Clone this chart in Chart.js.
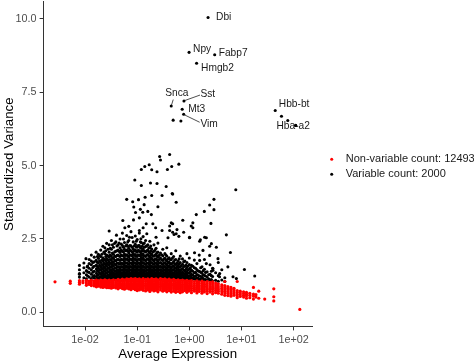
<!DOCTYPE html>
<html>
<head>
<meta charset="utf-8">
<script src="https://cdn.jsdelivr.net/npm/chart.js@4/dist/chart.umd.min.js"></script>
<style>
html,body{margin:0;padding:0;background:#fff;}
canvas{display:block;}
</style>
</head>
<body>
<canvas id="c" width="474" height="362"></canvas>
<script>
// ---------------- DATA ----------------
const xTickValues = [0.01, 0.1, 1, 10, 100];
const xTickLabels = ['1e-02', '1e-01', '1e+00', '1e+01', '1e+02'];
const yTickValues = [0, 2.5, 5, 7.5, 10];
const yTickLabels = ['0.0', '2.5', '5.0', '7.5', '10.0'];

const legendLabels = ['Non-variable count: 12493', 'Variable count: 2000'];

// labelled top variable genes
const geneNames = ['Dbi', 'Npy', 'Fabp7', 'Hmgb2', 'Snca', 'Sst', 'Mt3', 'Vim', 'Hbb-bt', 'Hba-a2'];
const geneExpr  = [2.29, 0.99, 3.07, 1.38, 0.45, 0.79, 0.73, 0.78, 44.5, 77.6];
const geneVar   = [10.05, 8.86, 8.78, 8.49, 7.03, 7.20, 6.92, 6.75, 6.88, 6.54];

// other scattered variable genes [average expression, standardized variance]
const variableSparse = [
 [0.49,6.55],[0.69,6.52],[58.7,6.68],[110,6.37],
 [0.27,5.31],[0.28,5.19],[0.42,5.38],[0.12,4.87],[0.14,4.97],[0.17,5.03],[0.19,4.86],[0.24,4.79],[0.38,4.87],[0.46,4.97],[0.63,5.05],
 [0.09,4.51],[0.12,4.32],[0.18,4.41],[0.24,4.39],[0.36,4.29],[0.48,4.03],[0.30,3.98],[0.19,3.98],
 [0.063,3.85],[0.082,3.77],[0.106,3.84],[0.142,3.92],[0.56,3.75],[0.25,3.60],[0.086,3.59],[0.136,3.67],[0.115,3.51],
 [0.093,3.40],[0.128,3.41],[0.16,3.44],[0.187,3.33],[0.11,3.22],[0.085,3.15],[0.053,3.13],[0.069,2.93],[0.058,2.88],
 [0.029,2.77],[0.04,2.63],[0.11,2.79],[0.13,2.88],[0.149,3.02],[0.2,3.02],[0.226,2.88],[0.30,2.79],[0.42,2.79],[0.48,3.02],
 [0.56,2.68],[0.153,2.68],[0.071,2.56],[0.118,2.51],[0.23,2.56],[0.39,2.54],
 [0.47,4.05],[7.8,4.18],[2.97,3.85],[2.46,3.66],[2.97,3.50],[1.94,3.44],[1.36,3.33],[0.75,3.14],[1.17,3.05],[1.09,2.94],
 [1.17,2.88],[2.6,3.03],[0.45,3.05],[0.42,2.94],[0.58,2.82],[0.48,2.73],[0.51,2.65],[0.78,2.73],[0.63,2.59],[1.01,2.54],
 [2.12,2.54],[1.63,2.47],[5.14,2.64],[6.15,2.04],[5.5,1.55],[11.4,1.46],[18,1.24],[6.9,1.21],[8.0,1.15],[2.46,2.25],
 [3.3,2.22],[1.97,2.56],[3.8,1.21],[2.84,1.43],[0.0104,1.83],[0.0163,2.05],[0.022,2.25],[0.0078,1.32],[0.011,1.55],[0.0163,1.77],
 [1.01,2.56],[1.58,2.42],[2.65,2.34],[1.83,2.11],[1.26,2.03],[2.46,1.94],[3.55,1.83],[2.12,1.66],[1.58,1.77],[3.83,1.32],[2.84,1.49]
];

// dense core of variable genes: expression column -> variances
const variableCoreX = [0.0078,0.0095,0.0106,0.012,0.0132,0.015,0.0165,0.018,0.020,0.022,0.024,0.026,0.029,0.032,0.035,0.039,0.043,0.047,0.052,0.057,0.063,0.069,0.076,0.084,0.092,0.10,0.11,0.12,0.13,0.145,0.16,0.175,0.19,0.21,0.23,0.25,0.28,0.31,0.34,0.37,0.41,0.45,0.50,0.55,0.61,0.67,0.74,0.82,0.90,1.0,1.1,1.25,1.4,1.55,1.75,1.95,2.2,2.5,2.8,3.2,3.6,4.2,4.8];
const variableCoreY = [
 [1.20,1.30,1.45,1.60],
 [1.18,1.35,1.52,1.68],
 [1.14,1.28,1.42],
 [1.20,1.36,1.50,1.66,1.80],
 [1.15,1.30,1.45,1.62,1.75,1.95],
 [1.17,1.25,1.40,1.57,1.72,1.88],
 [1.13,1.22,1.33,1.48,1.61],
 [1.16,1.28,1.39,1.52,1.68,1.84,1.98],
 [1.12,1.20,1.31,1.44,1.55,1.70,1.90,2.12],
 [1.14,1.24,1.35,1.47,1.60,1.74,1.86],
 [1.11,1.19,1.29,1.40,1.52,1.65,1.80,2.00,2.20],
 [1.15,1.23,1.33,1.44,1.57,1.69,1.83,1.95,2.35],
 [1.12,1.20,1.28,1.38,1.49,1.61,1.72,1.88,2.05,2.30],
 [1.14,1.22,1.31,1.42,1.54,1.66,1.78,1.92,2.15,2.45],
 [1.11,1.18,1.26,1.35,1.46,1.58,1.70,1.84,1.98,2.22],
 [1.13,1.21,1.30,1.39,1.50,1.62,1.75,1.90,2.08,2.40],
 [1.12,1.19,1.27,1.36,1.45,1.56,1.68,1.80,1.95,2.12,2.30],
 [1.14,1.22,1.31,1.40,1.52,1.64,1.77,1.90,2.04,2.20,2.50],
 [1.11,1.18,1.26,1.34,1.44,1.55,1.66,1.79,1.93,2.08,2.28,2.70],
 [1.13,1.21,1.29,1.38,1.48,1.60,1.72,1.85,1.99,2.15,2.38],
 [1.12,1.19,1.27,1.36,1.46,1.57,1.69,1.82,1.96,2.12,2.30,2.62],
 [1.14,1.22,1.30,1.40,1.51,1.63,1.75,1.88,2.02,2.18,2.45],
 [1.11,1.18,1.26,1.35,1.45,1.56,1.68,1.81,1.95,2.10,2.27,2.75],
 [1.13,1.21,1.29,1.38,1.48,1.60,1.72,1.85,2.00,2.16,2.40],
 [1.12,1.19,1.27,1.36,1.46,1.57,1.69,1.83,1.97,2.13,2.32,2.60],
 [1.14,1.22,1.30,1.40,1.51,1.63,1.76,1.90,2.05,2.22,2.48],
 [1.11,1.18,1.26,1.35,1.45,1.56,1.68,1.81,1.95,2.10,2.28,2.70],
 [1.13,1.21,1.29,1.38,1.48,1.60,1.72,1.86,2.00,2.18,2.38],
 [1.12,1.19,1.27,1.36,1.46,1.57,1.70,1.84,1.99,2.15,2.33,2.58],
 [1.14,1.22,1.30,1.40,1.51,1.63,1.76,1.90,2.06,2.24,2.45],
 [1.11,1.18,1.26,1.35,1.45,1.56,1.68,1.82,1.97,2.12,2.30],
 [1.13,1.21,1.29,1.38,1.48,1.60,1.73,1.87,2.02,2.20,2.42],
 [1.12,1.19,1.27,1.36,1.46,1.57,1.70,1.84,1.99,2.16],
 [1.14,1.22,1.30,1.40,1.51,1.63,1.76,1.91,2.08,2.30],
 [1.11,1.18,1.26,1.35,1.45,1.56,1.68,1.82,1.98,2.18],
 [1.13,1.21,1.29,1.38,1.48,1.60,1.73,1.88,2.05,2.36],
 [1.12,1.19,1.27,1.36,1.46,1.57,1.70,1.85,2.02],
 [1.14,1.22,1.30,1.40,1.51,1.63,1.77,1.93,2.15],
 [1.11,1.18,1.26,1.35,1.45,1.56,1.69,1.84,2.00],
 [1.13,1.21,1.29,1.38,1.49,1.61,1.75,1.92,2.20],
 [1.12,1.19,1.27,1.36,1.46,1.58,1.71,1.86],
 [1.14,1.22,1.30,1.40,1.51,1.64,1.79,2.00],
 [1.11,1.18,1.26,1.35,1.46,1.58,1.72,1.90],
 [1.13,1.21,1.29,1.39,1.50,1.63,1.80,2.10],
 [1.12,1.19,1.27,1.36,1.47,1.60,1.75],
 [1.14,1.22,1.31,1.42,1.55,1.70,1.92],
 [1.11,1.18,1.27,1.37,1.49,1.64,1.82],
 [1.13,1.21,1.30,1.42,1.57,1.75],
 [1.12,1.19,1.28,1.39,1.53,1.70,2.00],
 [1.14,1.23,1.34,1.47,1.63,1.85],
 [1.11,1.19,1.30,1.44,1.60],
 [1.13,1.22,1.35,1.52,1.78],
 [1.10,1.18,1.29,1.45,1.66],
 [1.12,1.24,1.40,1.95],
 [1.09,1.19,1.33,1.55],
 [1.11,1.26,1.47,1.80],
 [1.08,1.20,1.38],
 [1.10,1.30,1.62],
 [1.07,1.22,1.50],
 [1.09,1.35],
 [1.06,1.25,1.70],
 [1.10,1.45],
 [1.05,1.18]
];

// further variable genes filling the dense core between the columns above
const variableFillX = [0.0112,0.0141,0.0172,0.019,0.021,0.023,0.025,0.0275,0.0305,0.0335,0.037,0.041,0.045,0.0495,0.0545,0.060,0.066,0.0725,0.080,0.088,0.096,0.105,0.115,0.125,0.137,0.152,0.167,0.182,0.20,0.22,0.24,0.265,0.295,0.325,0.355,0.39,0.43,0.475,0.525,0.58,0.64,0.70,0.78,0.86,0.95,1.05,1.17,1.32,1.48,1.65,1.85,2.05,2.35,2.65];
const variableFillY = [
 [1.24,1.38,1.58],
 [1.22,1.37,1.53,1.70],
 [1.17,1.27,1.42,1.56,1.71,1.90],
 [1.21,1.34,1.46,1.60,1.76,1.92],
 [1.16,1.26,1.38,1.50,1.63,1.79,1.98],
 [1.18,1.29,1.41,1.54,1.67,1.81,2.05],
 [1.15,1.24,1.35,1.47,1.61,1.75,1.90,2.10],
 [1.17,1.27,1.39,1.52,1.64,1.78,1.93,2.15],
 [1.16,1.24,1.33,1.44,1.55,1.67,1.80,1.95,2.18],
 [1.18,1.26,1.36,1.47,1.60,1.72,1.85,2.02,2.30],
 [1.15,1.23,1.31,1.41,1.52,1.64,1.77,1.91,2.06,2.35],
 [1.17,1.25,1.34,1.44,1.55,1.67,1.80,1.94,2.10,2.26],
 [1.16,1.24,1.33,1.43,1.54,1.66,1.79,1.92,2.08,2.36],
 [1.18,1.26,1.35,1.45,1.56,1.68,1.81,1.95,2.12,2.33],
 [1.15,1.23,1.32,1.42,1.53,1.65,1.78,1.92,2.06,2.22,2.50],
 [1.17,1.25,1.34,1.44,1.55,1.67,1.80,1.94,2.10,2.26],
 [1.16,1.24,1.33,1.43,1.54,1.66,1.79,1.93,2.08,2.25,2.40],
 [1.18,1.26,1.35,1.45,1.56,1.68,1.81,1.95,2.11,2.28],
 [1.15,1.23,1.32,1.42,1.53,1.65,1.78,1.92,2.06,2.22,2.55],
 [1.17,1.25,1.34,1.44,1.55,1.67,1.80,1.94,2.09,2.26],
 [1.16,1.24,1.33,1.43,1.54,1.66,1.79,1.93,2.08,2.24,2.42],
 [1.18,1.26,1.35,1.45,1.56,1.68,1.81,1.95,2.11,2.28],
 [1.15,1.23,1.32,1.42,1.53,1.65,1.78,1.92,2.06,2.21,2.40],
 [1.17,1.25,1.34,1.44,1.55,1.67,1.80,1.94,2.09,2.25],
 [1.16,1.24,1.33,1.43,1.54,1.66,1.79,1.93,2.08,2.22,2.36],
 [1.18,1.26,1.35,1.45,1.56,1.68,1.81,1.95,2.10,2.27],
 [1.15,1.23,1.32,1.42,1.53,1.65,1.78,1.92,2.06,2.20],
 [1.17,1.25,1.34,1.44,1.55,1.67,1.80,1.94,2.09,2.26],
 [1.16,1.24,1.33,1.43,1.54,1.66,1.79,1.93,2.06],
 [1.18,1.26,1.35,1.45,1.56,1.68,1.81,1.95,2.12],
 [1.15,1.23,1.32,1.42,1.53,1.65,1.78,1.92,2.04],
 [1.17,1.25,1.34,1.44,1.55,1.67,1.80,1.94],
 [1.16,1.24,1.33,1.43,1.54,1.66,1.79,1.96],
 [1.18,1.26,1.35,1.45,1.56,1.68,1.82],
 [1.15,1.23,1.32,1.42,1.53,1.65,1.78,1.95],
 [1.17,1.25,1.34,1.44,1.55,1.67,1.82],
 [1.16,1.24,1.33,1.43,1.54,1.66,1.80],
 [1.18,1.26,1.35,1.45,1.56,1.68,1.85],
 [1.15,1.23,1.32,1.42,1.53,1.65,1.78],
 [1.17,1.25,1.34,1.44,1.55,1.69],
 [1.16,1.24,1.33,1.43,1.54,1.66,1.82],
 [1.18,1.26,1.35,1.46,1.59],
 [1.15,1.23,1.33,1.44,1.56,1.72],
 [1.17,1.25,1.35,1.47,1.61],
 [1.16,1.24,1.34,1.45,1.58],
 [1.15,1.26,1.38,1.52],
 [1.17,1.27,1.40,1.57],
 [1.14,1.24,1.36,1.50],
 [1.16,1.27,1.41],
 [1.13,1.23,1.37,1.52],
 [1.15,1.27,1.42],
 [1.12,1.24,1.36],
 [1.14,1.28],
 [1.12,1.25,1.40]
];

// non-variable genes: expression column -> variances
const nonVariableX = [0.00265,0.0052,0.0078,0.0091,0.0106,0.012,0.0132,0.015,0.0165,0.018,0.020,0.022,0.024,0.026,0.029,0.032,0.035,0.039,0.043,0.047,0.052,0.057,0.063,0.069,0.076,0.084,0.092,0.10,0.11,0.12,0.13,0.145,0.16,0.175,0.19,0.21,0.23,0.25,0.28,0.31,0.34,0.37,0.41,0.45,0.50,0.55,0.61,0.67,0.74,0.82,0.90,1.0,1.1,1.25,1.4,1.55,1.75,1.95,2.2,2.5,2.8,3.2,3.6,4.2,4.8,5.5,6.3,7.2,8.3,9.5,11,12.5,14.5,17,19,21.5,28,41.8,132];
const nonVariableY = [
 [1.04],
 [1.06,0.99],
 [1.08,1.02,0.96],
 [1.07,1.01],
 [1.09,1.03,0.97,0.92],
 [1.06,1.00,0.95],
 [1.09,1.03,0.97,0.91],
 [1.07,1.01,0.95,0.90],
 [1.10,1.04,0.98,0.92,0.87],
 [1.07,1.01,0.95,0.89],
 [1.10,1.04,0.98,0.92,0.86],
 [1.08,1.02,0.96,0.90,0.85],
 [1.11,1.05,0.99,0.93,0.87],
 [1.08,1.02,0.96,0.90,0.84],
 [1.10,1.03,0.96,0.90,0.84],
 [1.08,1.01,0.94,0.88,0.82],
 [1.11,1.04,0.97,0.91,0.85],
 [1.09,1.02,0.95,0.89,0.83],
 [1.12,1.05,0.98,0.92,0.86,0.80],
 [1.10,1.03,0.96,0.90,0.84],
 [1.13,1.06,0.99,0.93,0.87,0.81],
 [1.11,1.04,0.97,0.91,0.85,0.79],
 [1.14,1.07,1.00,0.94,0.88,0.82],
 [1.12,1.05,0.98,0.92,0.86,0.80],
 [1.15,1.08,1.01,0.95,0.89,0.83,0.77],
 [1.13,1.06,0.99,0.93,0.87,0.81],
 [1.15,1.08,1.01,0.95,0.89,0.83,0.77],
 [1.12,1.05,0.98,0.92,0.86,0.80,0.74],
 [1.14,1.07,1.00,0.94,0.88,0.82,0.76],
 [1.11,1.04,0.97,0.91,0.85,0.79],
 [1.15,1.08,1.01,0.95,0.89,0.83,0.75],
 [1.12,1.05,0.98,0.92,0.86,0.80,0.73],
 [1.14,1.07,1.00,0.94,0.88,0.82,0.76],
 [1.11,1.04,0.97,0.91,0.85,0.78,0.71],
 [1.15,1.08,1.01,0.95,0.89,0.83,0.76],
 [1.12,1.05,0.98,0.92,0.86,0.80,0.73],
 [1.14,1.07,1.00,0.94,0.88,0.82,0.75],
 [1.11,1.04,0.97,0.91,0.85,0.78,0.70],
 [1.15,1.08,1.01,0.95,0.89,0.83,0.76],
 [1.12,1.05,0.98,0.92,0.86,0.80,0.72],
 [1.14,1.07,1.00,0.94,0.88,0.82,0.75],
 [1.11,1.04,0.97,0.91,0.85,0.78,0.70],
 [1.13,1.06,0.99,0.93,0.87,0.81,0.74],
 [1.10,1.03,0.96,0.90,0.84,0.77,0.69],
 [1.12,1.05,0.98,0.92,0.86,0.80,0.72],
 [1.09,1.02,0.95,0.89,0.83,0.76,0.68],
 [1.11,1.04,0.97,0.91,0.85,0.79,0.71],
 [1.08,1.01,0.94,0.88,0.82,0.75,0.67],
 [1.10,1.03,0.96,0.90,0.84,0.77,0.70],
 [1.07,1.00,0.93,0.87,0.81,0.74],
 [1.09,1.02,0.95,0.89,0.83,0.76,0.68],
 [1.06,0.99,0.92,0.86,0.80,0.73],
 [1.08,1.01,0.94,0.88,0.82,0.75,0.67],
 [1.05,0.98,0.91,0.85,0.79,0.72],
 [1.07,1.00,0.93,0.87,0.81,0.74,0.66],
 [1.04,0.97,0.90,0.84,0.78,0.71],
 [1.06,0.99,0.92,0.86,0.80,0.73,0.65],
 [1.03,0.96,0.89,0.83,0.77,0.70],
 [1.05,0.98,0.91,0.85,0.79,0.72,0.64],
 [1.02,0.95,0.88,0.82,0.76,0.69],
 [1.04,0.97,0.90,0.84,0.78,0.71,0.63],
 [1.00,0.93,0.86,0.80,0.74,0.67],
 [0.97,0.90,0.84,0.78,0.72,0.65],
 [0.94,0.88,0.82,0.76,0.70,0.62],
 [1.05,0.91,0.85,0.78,0.72,0.66,0.58],
 [0.88,0.82,0.76,0.70,0.64,0.57],
 [0.85,0.79,0.73,0.67,0.61,0.55],
 [0.82,0.76,0.70,0.64,0.58],
 [1.05,0.74,0.68,0.62,0.56,0.50],
 [0.72,0.66,0.60,0.54],
 [0.70,0.64,0.58,0.52],
 [0.68,0.62,0.56,0.48],
 [0.65,0.58,0.50],
 [0.85,0.62,0.55,0.45],
 [0.60,0.52],
 [0.72,0.48],
 [0.45],
 [0.80,0.53,0.39],
 [0.10]
];

// ---------------- BUILD ----------------
const nonVarPoints = [];
nonVariableX.forEach((x, i) => nonVariableY[i].forEach(y => nonVarPoints.push({x, y})));
const varPoints = [];
variableCoreX.forEach((x, i) => variableCoreY[i].forEach(y => varPoints.push({x, y})));
variableFillX.forEach((x, i) => variableFillY[i].forEach(y => varPoints.push({x, y})));
variableSparse.forEach(p => varPoints.push({x: p[0], y: p[1]}));
geneExpr.forEach((x, i) => varPoints.push({x, y: geneVar[i]}));

const FONT = "'Liberation Sans', Arial, Helvetica, sans-serif";
Chart.defaults.font.family = FONT;

// label placement (pixel offsets from each gene's point) and leader lines
const labelStyle = {
  'Dbi':    {dx: 8,    dy: 0},
  'Npy':    {dx: 4,    dy: -3.5},
  'Fabp7':  {dx: 4,    dy: -2},
  'Hmgb2':  {dx: 4.5,  dy: 4.5},
  'Snca':   {dx: -6,   dy: -12.7, line: [0.3, -1, 2, -6.5]},
  'Sst':    {dx: 16.5, dy: -7,    line: [1, -0.6, 16, -6]},
  'Mt3':    {dx: 6,    dy: 0},
  'Vim':    {dx: 16.7, dy: 10,    line: [0.8, 0.6, 16, 8]},
  'Hbb-bt': {dx: 3.6,  dy: -6.6},
  'Hba-a2': {dx: -11.3, dy: 6}
};

const annotate = {
  id: 'annotate',
  afterDatasetsDraw(chart) {
    const ctx = chart.ctx;
    const xs = chart.scales.x, ys = chart.scales.y;
    ctx.save();
    ctx.font = '10.2px ' + FONT;
    ctx.textBaseline = 'middle';
    ctx.textAlign = 'left';
    geneNames.forEach((name, i) => {
      const px = xs.getPixelForValue(geneExpr[i]);
      const py = ys.getPixelForValue(geneVar[i]);
      const s = labelStyle[name];
      if (s.line) {
        ctx.strokeStyle = '#222';
        ctx.lineWidth = 0.8;
        ctx.beginPath();
        ctx.moveTo(px + s.line[0], py + s.line[1]);
        ctx.lineTo(px + s.line[2], py + s.line[3]);
        ctx.stroke();
      }
      ctx.fillStyle = '#1a1a1a';
      ctx.fillText(name, px + s.dx, py + s.dy);
    });
    // redraw the point overlapping the Hba-a2 dash
    const hx = xs.getPixelForValue(110), hy = ys.getPixelForValue(6.37);
    ctx.fillStyle = '#000';
    ctx.beginPath(); ctx.arc(hx, hy, 1.5, 0, Math.PI * 2); ctx.fill();

    // legend
    const colors = ['#FF0000', '#000000'];
    const lx = 331.7, ly = [159.3, 174.3];
    ctx.font = '11px ' + FONT;
    legendLabels.forEach((t, i) => {
      ctx.fillStyle = colors[i];
      ctx.beginPath(); ctx.arc(lx, ly[i], 1.5, 0, Math.PI * 2); ctx.fill();
      ctx.fillStyle = '#1a1a1a';
      ctx.fillText(t, 345.7, ly[i]);
    });
    ctx.restore();
  }
};

new Chart(document.getElementById('c'), {
  type: 'scatter',
  data: {
    datasets: [
      {label: legendLabels[0], data: nonVarPoints, backgroundColor: '#FF0000', borderWidth: 0, pointRadius: 1.6, pointHoverRadius: 1.6},
      {label: legendLabels[1], data: varPoints, backgroundColor: '#000000', borderWidth: 0, pointRadius: 1.55, pointHoverRadius: 1.55}
    ]
  },
  options: {
    responsive: false,
    animation: false,
    devicePixelRatio: 1,
    layout: {padding: {top: 0, right: 162, left: 0, bottom: 0}},
    plugins: {legend: {display: false}, tooltip: {enabled: false}},
    scales: {
      x: {
        type: 'logarithmic',
        min: 0.00158,
        max: 226,
        afterBuildTicks: s => { s.ticks = xTickValues.map(v => ({value: v})); },
        afterFit: s => { s.height = 35.3; s.paddingLeft = 0; s.paddingRight = 0; },
        ticks: {
          autoSkip: false, maxRotation: 0, padding: 3,
          color: '#4d4d4d', font: {size: 10.8},
          callback: (v, i) => xTickLabels[i]
        },
        grid: {display: true, drawOnChartArea: false, drawTicks: true, tickLength: 3.7, color: '#333', lineWidth: 1},
        border: {display: true, color: '#333', width: 1},
        title: {display: true, text: 'Average Expression', color: '#000', font: {size: 13.3}, padding: {top: 0, bottom: 0}}
      },
      y: {
        type: 'linear',
        min: -0.49,
        max: 10.59,
        afterBuildTicks: s => { s.ticks = yTickValues.map(v => ({value: v})); },
        afterFit: s => { s.width = 43.3; s.paddingTop = 0; s.paddingBottom = 0; },
        ticks: {
          autoSkip: false, padding: 3,
          color: '#4d4d4d', font: {size: 10.8},
          callback: (v, i) => yTickLabels[i]
        },
        grid: {display: true, drawOnChartArea: false, drawTicks: true, tickLength: 3.7, color: '#333', lineWidth: 1},
        border: {display: true, color: '#333', width: 1},
        title: {display: true, text: 'Standardized Variance', color: '#000', font: {size: 13.3}, padding: {top: 1, bottom: 0}}
      }
    }
  },
  plugins: [annotate]
});
</script>
</body>
</html>
